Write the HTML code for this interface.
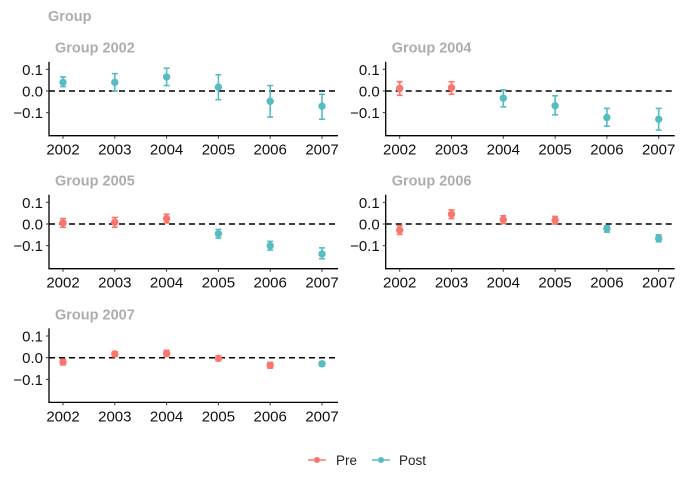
<!DOCTYPE html>
<html><head><meta charset="utf-8"><style>
body{margin:0;background:#fff;}
svg text{font-family:"Liberation Sans",Arial,sans-serif;}
</style></head><body>
<svg id="c" width="685" height="489" xmlns="http://www.w3.org/2000/svg">
<text x="48" y="21" font-size="14.5" font-weight="bold" fill="#adadad">Group</text>
<g id="legend">
 <g>
  <line x1="308" y1="460" x2="326" y2="460" stroke="#F8766D" stroke-width="1.5"/>
  <circle cx="317" cy="460" r="3" fill="#F8766D"/>
  <text x="336" y="465" font-size="13.5" fill="#222">Pre</text>
 </g>
 <g>
  <line x1="372" y1="460" x2="390" y2="460" stroke="#56BCC2" stroke-width="1.5"/>
  <circle cx="381" cy="460" r="3" fill="#56BCC2"/>
  <text x="399" y="465" font-size="13.5" fill="#222">Post</text>
 </g>
</g>
</svg>
<script>
const years=[2002,2003,2004,2005,2006,2007];
const groups=["Group 2002","Group 2004","Group 2005","Group 2006","Group 2007"];
const groupYears=[2002,2004,2005,2006,2007];
const est2002=[0.04,0.04,0.065,0.018,-0.047,-0.07];
const lo2002=[0.02,0.0,0.025,-0.04,-0.12,-0.13];
const hi2002=[0.065,0.08,0.105,0.075,0.025,-0.015];
const est2004=[0.012,0.015,-0.033,-0.068,-0.122,-0.13];
const lo2004=[-0.02,-0.015,-0.073,-0.11,-0.162,-0.18];
const hi2004=[0.043,0.043,0.005,-0.022,-0.08,-0.08];
const est2005=[0.005,0.008,0.025,-0.045,-0.1,-0.138];
const lo2005=[-0.015,-0.015,0.005,-0.065,-0.12,-0.16];
const hi2005=[0.025,0.03,0.045,-0.025,-0.08,-0.11];
const est2006=[-0.028,0.045,0.02,0.018,-0.022,-0.066];
const lo2006=[-0.048,0.025,0.002,0.0,-0.038,-0.082];
const hi2006=[-0.008,0.065,0.038,0.035,-0.008,-0.05];
const est2007=[-0.02,0.017,0.02,-0.003,-0.035,-0.028];
const lo2007=[-0.033,0.005,0.006,-0.014,-0.048,-0.038];
const hi2007=[-0.007,0.028,0.034,0.008,-0.022,-0.018];
const yTicks=[0.1,0.0,-0.1];
const yTickLabels=["0.1","0.0","\u22120.1"];
const ests=[est2002,est2004,est2005,est2006,est2007];
const los=[lo2002,lo2004,lo2005,lo2006,lo2007];
const his=[hi2002,hi2004,hi2005,hi2006,hi2007];

const NS="http://www.w3.org/2000/svg";
const svg=document.getElementById('c');
function mk(t,a,p){const e=document.createElementNS(NS,t);for(const k in a)e.setAttribute(k,a[k]);(p||svg).appendChild(e);return e;}
const colX=[49,385.7], rowZero=[91,224,357.7];
const PRE="#F8766D", POST="#56BCC2";
groups.forEach((g,gi)=>{
  const ax=colX[gi%2], z=rowZero[Math.floor(gi/2)];
  const yS=v=>z-v*217, xS=i=>ax+14+i*51.8;
  const top=z-29.3, bot=z+44.7, right=ax+289;
  const grp=mk('g',{});
  
  
  const t=mk('text',{x:ax+6,y:top-9,'font-size':14.5,'font-weight':'bold',fill:'#adadad'},grp);
  t.textContent=g;
  
  
  const axl=mk('path',{d:`M${ax},${top}V${bot}H${right}`,stroke:'#000','stroke-width':1.3,fill:'none'},grp);
  
  
  yTicks.forEach((v,i)=>{
    mk('line',{x1:ax-3,x2:ax,y1:yS(v),y2:yS(v),stroke:'#333'},grp);
    const l=mk('text',{x:ax-6,y:yS(v)+5.5,'font-size':15,'text-anchor':'end',fill:'#111'},grp);
    l.textContent=yTickLabels[i];
    
    
  });
  years.forEach((y,i)=>{
    mk('line',{x1:xS(i),x2:xS(i),y1:bot,y2:bot+3,stroke:'#333'},grp);
    const l=mk('text',{x:xS(i),y:bot+19,'font-size':15,'text-anchor':'middle',fill:'#111'},grp);
    l.textContent=y;
    
    
  });
  const zl=mk('line',{x1:ax,x2:right,y1:yS(0),y2:yS(0),stroke:'#000','stroke-width':1.5,'stroke-dasharray':'6,4'},grp);
  
  
  years.forEach((y,i)=>{
    const col=y<groupYears[gi]?PRE:POST;
    const x=xS(i), lo=yS(los[gi][i]), hi=yS(his[gi][i]);
    const eg=mk('g',{stroke:col,'stroke-width':1.6},grp);
    
    
    mk('line',{x1:x,x2:x,y1:lo,y2:hi},eg);
    mk('line',{x1:x-3,x2:x+3,y1:lo,y2:lo},eg);
    mk('line',{x1:x-3,x2:x+3,y1:hi,y2:hi},eg);
    const p=mk('circle',{cx:x,cy:yS(ests[gi][i]),r:3.7,fill:col},grp);
    
    
  });
});
</script>
</body></html>
